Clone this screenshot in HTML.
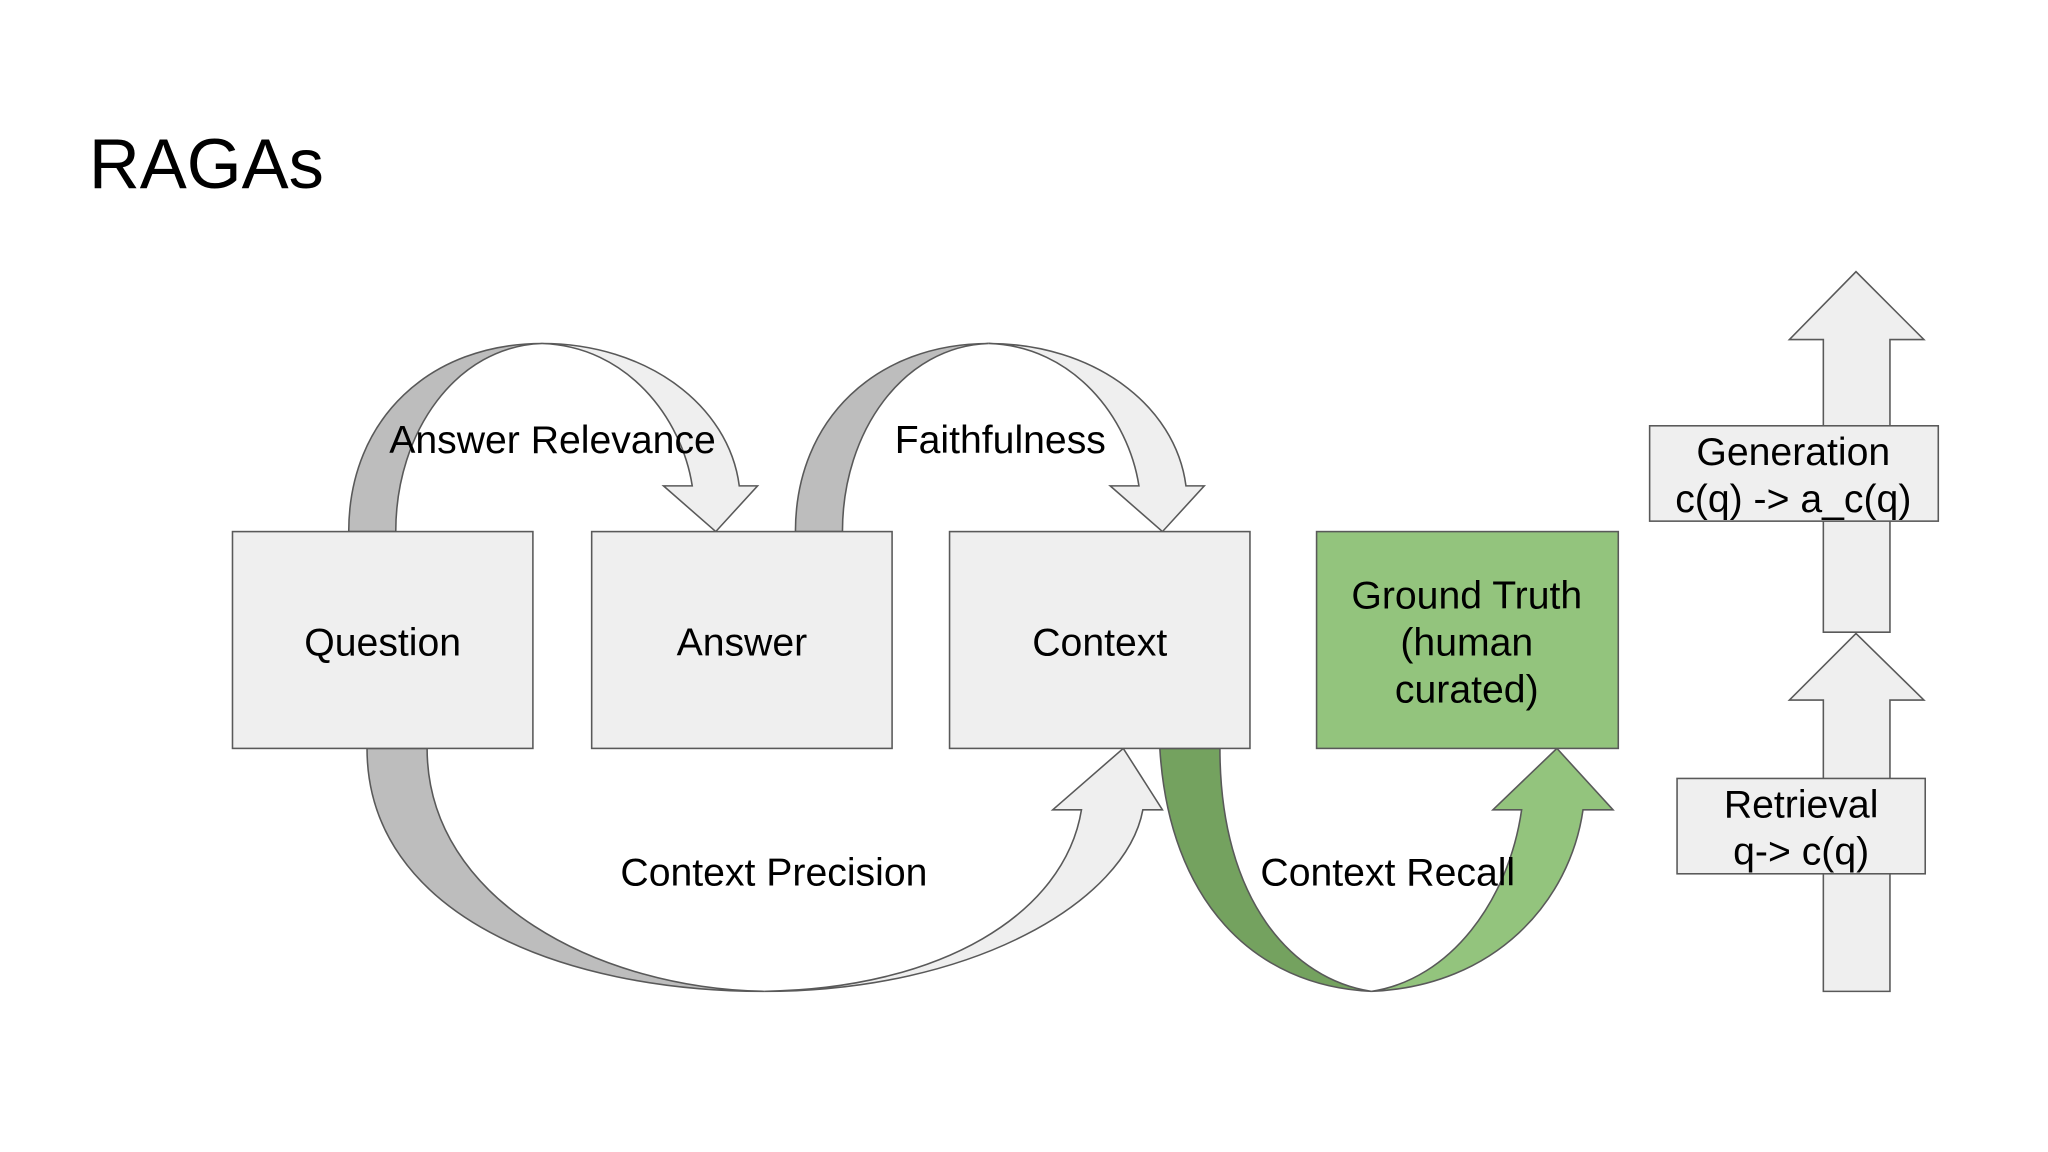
<!DOCTYPE html>
<html><head><meta charset="utf-8"><style>
html,body{margin:0;padding:0;background:#fff;}
svg{display:block;}
text{font-family:"Liberation Sans",Arial,sans-serif;fill:#000;}
</style></head><body>
<svg width="2048" height="1152" viewBox="0 0 1568 882" xmlns="http://www.w3.org/2000/svg">
<rect width="1568" height="882" fill="#fff"/>
<text x="68" y="144" font-size="54">RAGAs</text>

<g stroke="#595959" stroke-width="1.2" stroke-linejoin="miter">
<path d="M267,407 C267,320 330,263 415,263 C350,265 303,330 303,407 Z" fill="#bdbdbd"/>
<path d="M415,263 C495,263 558,310 566,372 L580,372 L548,407 L508,372 L530,372 C522,320 480,265 415,263 Z" fill="#efefef"/>
<g transform="translate(342,0)">
<path d="M267,407 C267,320 330,263 415,263 C350,265 303,330 303,407 Z" fill="#bdbdbd"/>
<path d="M415,263 C495,263 558,310 566,372 L580,372 L548,407 L508,372 L530,372 C522,320 480,265 415,263 Z" fill="#efefef"/>
</g>
<path d="M281,573 C281,700 430,759 585,759 C460,757 327,690 327,573 Z" fill="#bdbdbd"/>
<path d="M585,759 C745,759 862,690 875,620 L890,620 L860,573 L806,620 L828,620 C815,700 720,757 585,759 Z" fill="#efefef"/>
<path d="M888,573 C895,690 960,755 1050,759 C990,750 934,690 934,573 Z" fill="#74a25f"/>
<path d="M1050,759 C1145,755 1202,690 1212,620 L1235,620 L1192,573 L1143,620 L1165,620 C1155,690 1110,750 1050,759 Z" fill="#93c47d"/>

<path d="M1396,484 L1396,260 L1370,260 L1421,208 L1473,260 L1447,260 L1447,484 Z" fill="#efefef"/>
<path d="M1396,759 L1396,536 L1370,536 L1421,485 L1473,536 L1447,536 L1447,759 Z" fill="#efefef"/>
<rect x="1263" y="326" width="221" height="73" fill="#efefef"/>
<rect x="1284" y="596" width="190" height="73" fill="#efefef"/>

<rect x="178" y="407" width="230" height="166" fill="#efefef"/>
<rect x="453" y="407" width="230" height="166" fill="#efefef"/>
<rect x="727" y="407" width="230" height="166" fill="#efefef"/>
<rect x="1008" y="407" width="231" height="166" fill="#93c47d"/>
</g>

<g font-size="30" text-anchor="middle">
<text x="293" y="502">Question</text>
<text x="568" y="502">Answer</text>
<text x="842" y="502">Context</text>
<text x="1123" y="466">Ground Truth</text>
<text x="1123" y="502">(human</text>
<text x="1123" y="538">curated)</text>
<text x="1373" y="356">Generation</text>
<text x="1373" y="392">c(q) -&gt; a_c(q)</text>
<text x="1379" y="626">Retrieval</text>
<text x="1379" y="662">q-&gt; c(q)</text>
</g>
<g font-size="30">
<text x="298" y="347">Answer Relevance</text>
<text x="685" y="347">Faithfulness</text>
<text x="475" y="678">Context Precision</text>
<text x="965" y="678">Context Recall</text>
</g>
</svg>
</body></html>
